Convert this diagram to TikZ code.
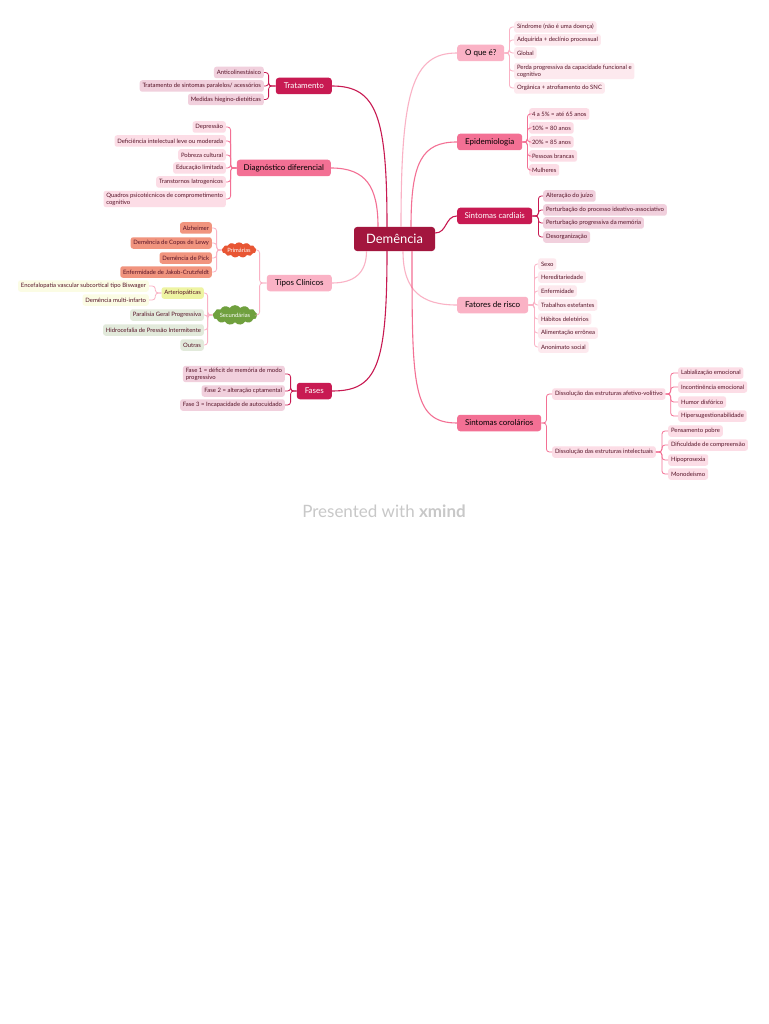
\documentclass[tikz,border=0pt]{standalone}
\usepackage{fontspec}
\setmainfont{Lato}
\usepackage{xcolor}
\usepackage{tikz}
\usetikzlibrary{shapes.symbols}
\definecolor{demred}{RGB}{163, 22, 62}
\definecolor{crimson}{RGB}{200, 26, 82}
\definecolor{midpink}{RGB}{243, 112, 148}
\definecolor{lightpink}{RGB}{250, 178, 197}
\definecolor{crimleaf}{RGB}{241, 208, 221}
\definecolor{midleaf}{RGB}{252, 221, 230}
\definecolor{lightleaf}{RGB}{253, 233, 238}
\definecolor{leaftxt}{RGB}{85, 18, 38}
\definecolor{primred}{RGB}{232, 86, 52}
\definecolor{primleaf}{RGB}{241, 148, 126}
\definecolor{secgreen}{RGB}{112, 160, 62}
\definecolor{artyellow}{RGB}{238, 244, 162}
\definecolor{artleaf}{RGB}{251, 252, 228}
\definecolor{secleaf}{RGB}{226, 234, 219}
\definecolor{wmgray}{RGB}{200, 200, 200}

\begin{document}
\begin{tikzpicture}[x=1pt, y=-1pt,
    leaf/.style={fill=#1, rounded corners=2.5pt, text=leaftxt, font=\fontsize{5.95}{6.9}\selectfont, inner xsep=2.8pt, inner ysep=2pt, minimum height=11.5pt, align=left},
    topic/.style={fill=#1, rounded corners=3pt, font=\fontsize{8}{9}\selectfont, minimum height=16.5pt, inner xsep=5pt},
    br/.style={draw=#1, line width=0.8pt, rounded corners=3pt},
    link/.style={draw=#1, line width=1.1pt},
    blob/.style={cloud, cloud puffs=13, cloud puff arc=110, aspect=3, fill=#1, text=white, font=\fontsize{5.8}{6.8}\selectfont, inner sep=0.3pt}]
    \useasboundingbox (0,0) rectangle (768,1024);
    \fill[white] (0,0) rectangle (768,1024);

    % centre
    \node[fill=demred, rounded corners=3pt, text=white, font=\fontsize{12.9}{15}\selectfont, minimum width=81pt, minimum height=24pt] (dem) at (394.5,239) {Demência};

    % right side
    \node[topic=lightpink, anchor=west, minimum width=47pt] (oque) at (457,53) {O que é?};
    \node[topic=midpink, anchor=west, minimum width=65pt] (epid) at (457,142) {Epidemiologia};
    \node[topic=crimson, anchor=west, minimum width=75pt, text=white] (sintc) at (457,216) {Sintomas cardiais};
    \node[topic=lightpink, anchor=west, minimum width=71pt] (fator) at (457,305) {Fatores de risco};
    \node[topic=midpink, anchor=west, minimum width=84pt] (corol) at (457,423) {Sintomas corolários};

    \foreach \y/\t [count=\i] in {27/{Síndrome (não é uma doença)}, 40/{Adquirida + declínio processual}, 53/Global, 71/{Perda progressiva da capacidade funcional e\\cognitivo}, 88/{Orgânica + atrofiamento do SNC}} {
        \node[leaf=lightleaf, anchor=west] (oq\i) at (514,\y) {\t};
        \draw[br=lightpink] (oque.east) -- ++(5,0) |- (oq\i.west);
    }
    \foreach \y/\t [count=\i] in {114/{4 a 5\% = até 65 anos}, 128/{10\% = 80 anos}, 142/{20\% = 85 anos}, 156/{Pessoas brancas}, 170/Mulheres} {
        \node[leaf=midleaf, anchor=west] (ep\i) at (529,\y) {\t};
        \draw[br=midpink] (epid.east) -- ++(5,0) |- (ep\i.west);
    }
    \foreach \y/\t [count=\i] in {196/{Alteração do juízo}, 210/{Perturbação do processo ideativo-associativo}, 223/{Perturbação progressiva da memória}, 237/Desorganização} {
        \node[leaf=crimleaf, anchor=west] (sc\i) at (543,\y) {\t};
        \draw[br=crimson] (sintc.east) -- ++(6,0) |- (sc\i.west);
    }
    \foreach \y/\t [count=\i] in {264/Sexo, 277/Hereditariedade, 291/Enfermidade, 305/{Trabalhos estefantes}, 319/{Hábitos deletérios}, 333/{Alimentação errônea}, 347/{Anonimato social}} {
        \node[leaf=lightleaf, anchor=west] (fr\i) at (538,\y) {\t};
        \draw[br=lightpink] (fator.east) -- ++(6,0) |- (fr\i.west);
    }

    \node[leaf=midleaf, anchor=west] (afet) at (552,394) {Dissolução das estruturas afetivo-volitivo};
    \node[leaf=midleaf, anchor=west] (intel) at (552,452) {Dissolução das estruturas intelectuais};
    \draw[br=midpink] (corol.east) -- ++(5,0) |- (afet.west);
    \draw[br=midpink] (corol.east) -- ++(5,0) |- (intel.west);
    \foreach \y/\t [count=\i] in {373/{Labialização emocional}, 387/{Incontinência emocional}, 402/{Humor disfórico}, 416/Hipersugestionabilidade} {
        \node[leaf=midleaf, anchor=west] (af\i) at (678,\y) {\t};
        \draw[br=midpink] (afet.east) -- ++(5,0) |- (af\i.west);
    }
    \foreach \y/\t [count=\i] in {431/{Pensamento pobre}, 445/{Dificuldade de compreensão}, 460/Hipoprosexia, 474/Monodeísmo} {
        \node[leaf=midleaf, anchor=west] (in\i) at (668,\y) {\t};
        \draw[br=midpink] (intel.east) -- ++(6,0) |- (in\i.west);
    }

    % left side
    \node[topic=crimson, anchor=east, minimum width=56pt, text=white] (trat) at (332,86) {Tratamento};
    \node[topic=midpink, anchor=east, minimum width=94pt] (diag) at (331,168) {Diagnóstico diferencial};
    \node[topic=lightpink, anchor=east, minimum width=65pt] (tipos) at (332,283) {Tipos Clínicos};
    \node[topic=crimson, anchor=east, minimum width=35pt, text=white] (fases) at (332,391) {Fases};

    \foreach \y/\t [count=\i] in {72.5/Anticolinestásico, 86/{Tratamento de sintomas paralelos/ acessórios}, 99.5/{Medidas hiegino-dietéticas}} {
        \node[leaf=crimleaf, anchor=east] (tr\i) at (264,\y) {\t};
        \draw[br=crimson] (trat.west) -- ++(-7,0) |- (tr\i.east);
    }
    \foreach \y/\t [count=\i] in {127/Depressão, 141/{Deficiência intelectual leve ou moderada}, 155/{Pobreza cultural}, 168/{Educação limitada}, 182/{Transtornos Iatrogenicos}, 199/{Quadros psicotécnicos de comprometimento\\cognitivo}} {
        \node[leaf=midleaf, anchor=east] (dg\i) at (226,\y) {\t};
        \draw[br=midpink] (diag.west) -- ++(-6,0) |- (dg\i.east);
    }

    \node[blob=primred, minimum width=33pt, minimum height=13pt] (prim) at (239,250) {Primárias};
    \node[blob=secgreen, minimum width=41pt, minimum height=13pt] (secu) at (235,315) {Secundárias};
    \draw[br=lightpink] (tipos.west) -- ++(-7,0) |- (prim.east);
    \draw[br=lightpink] (tipos.west) -- ++(-7,0) |- (secu.east);
    \foreach \y/\t [count=\i] in {228/Alzheimer, 243/{Demência de Copos de Lewy}, 258/{Demência de Pick}, 272/{Enfermidade de Jakob-Crutzfeldt}} {
        \node[leaf=primleaf, anchor=east] (pr\i) at (212,\y) {\t};
        \draw[br=lightpink] (prim.west) -- ++(-5,0) |- (pr\i.east);
    }
    \node[leaf=artyellow, anchor=east] (arter) at (204,293) {Arteriopáticas};
    \draw[br=lightpink] (secu.west) -- ++(-5,0) |- (arter.east);
    \foreach \y/\t [count=\i] in {315/{Paralisia Geral Progressiva}, 330/{Hidrocefalia de Pressão Intermitente}, 345/Outras} {
        \node[leaf=secleaf, anchor=east] (sd\i) at (204,\y) {\t};
        \draw[br=lightpink] (secu.west) -- ++(-5,0) |- (sd\i.east);
    }
    \foreach \y/\t [count=\i] in {286/{Encefalopatia vascular subcortical tipo Biswager}, 300/{Demência multi-infarto}} {
        \node[leaf=artleaf, anchor=east] (ar\i) at (149,\y) {\t};
        \draw[br=lightpink] (arter.west) -- ++(-6,0) |- (ar\i.east);
    }
    \foreach \y/\t [count=\i] in {374/{Fase 1 = déficit de memória de modo\\progressivo}, 391/{Fase 2 = alteração cptamental}, 405/{Fase 3 = Incapacidade de autocuidado}} {
        \node[leaf=crimleaf, anchor=east] (fs\i) at (285,\y) {\t};
        \draw[br=crimson] (fases.west) -- ++(-6,0) |- (fs\i.east);
    }

    % branches from the centre
    \draw[link=crimson] ([xshift=-7.5pt]dem.north) .. controls +(0,-110) and +(45,0) .. (trat.east);
    \draw[link=midpink] ([xshift=-16.5pt]dem.north) .. controls +(0,-40) and +(35,0) .. (diag.east);
    \draw[link=lightpink] ([xshift=6.5pt]dem.north) .. controls +(0,-135) and +(-45,0) .. (oque.west);
    \draw[link=midpink] ([xshift=16.5pt]dem.north) .. controls +(0,-65) and +(-35,0) .. (epid.west);
    \draw[link=crimson] ([yshift=6pt]dem.east) .. controls +(12,0) and +(-12,0) .. (sintc.west);
    \draw[link=lightpink] ([xshift=-28pt]dem.south) .. controls +(0,22) and +(22,0) .. (tipos.east);
    \draw[link=crimson] ([xshift=-7.5pt]dem.south) .. controls +(0,115) and +(45,0) .. (fases.east);
    \draw[link=lightpink] ([xshift=8.5pt]dem.south) .. controls +(0,40) and +(-35,0) .. (fator.west);
    \draw[link=midpink] ([xshift=17.5pt]dem.south) .. controls +(0,135) and +(-45,0) .. (corol.west);

    \node[text=wmgray, font=\fontsize{17}{19}\selectfont] (wm) at (384,511) {Presented with \textbf{xmind}};
\end{tikzpicture}
\end{document}
